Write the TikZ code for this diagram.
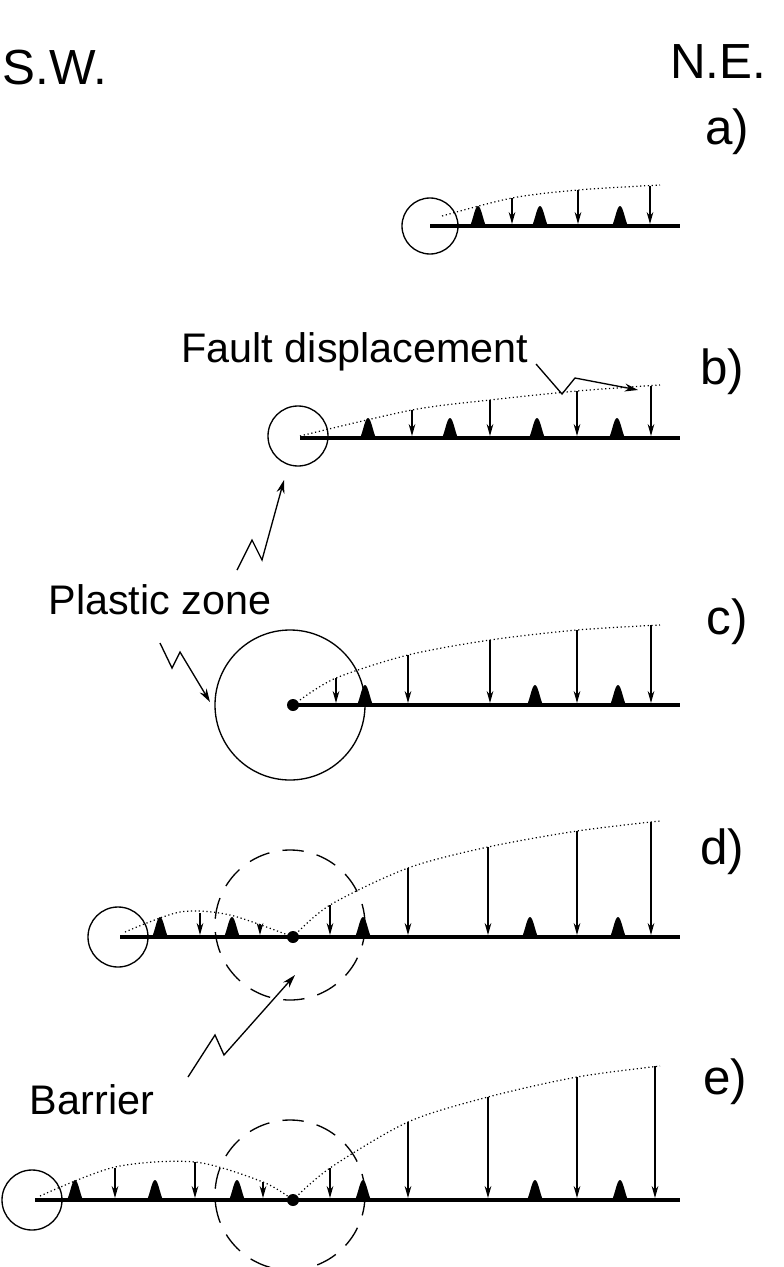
\documentclass[tikz,border=0pt]{standalone}
\usepackage{fontspec}
\setmainfont{Liberation Sans}
\usetikzlibrary{arrows.meta}
\tikzset{
 fault/.style={line width=2.6pt},
 disp/.style={-{Stealth[length=9pt,width=5pt]},line width=0.9pt},
 curve/.style={dotted,line width=0.9pt},
 zone/.style={line width=1pt},
 barrierc/.style={line width=1pt,dash pattern=on 16pt off 10pt},
 lbl/.style={font=\fontsize{37}{40}\selectfont,inner sep=0pt},
 tlbl/.style={font=\fontsize{31}{34}\selectfont,inner sep=0pt},
 squig/.style={-{Stealth[length=10pt,width=6pt]},line width=1pt},
}
\newcommand{\tri}[2]{\fill (#1-8,#2) .. controls (#1-5,#2-6) and (#1-3,#2-20) .. (#1,#2-20) .. controls (#1+3,#2-20) and (#1+5,#2-6) .. (#1+8,#2) -- cycle;}
\newcommand{\arr}[3]{\draw[disp] (#1,#2) -- (#1,#3);}
\begin{document}
\begin{tikzpicture}[x=0.75pt,y=-0.75pt]
\useasboundingbox (0,0) rectangle (783,1267);
\node[lbl] (sw) at (55,68) {S.W.};
\node[lbl] (ne) at (718,62) {N.E.};
\node[lbl] (la) at (727,132) {a)};
\node[lbl] (lb) at (722,372) {b)};
\node[lbl] (lc) at (727,622) {c)};
\node[lbl] (ld) at (722,852) {d)};
\node[lbl] (le) at (725,1082) {e)};
% a
\draw[fault] (430,226) -- (680,226);
\node[zone,draw,circle,minimum size=56pt*0.75] (ca) at (430,226) {};
\draw[curve] plot[smooth] coordinates {(442,216) (512,198) (578,190) (660,185)};
\foreach \x in {478,540,620} {\tri{\x}{226}}
\arr{512}{198}{224}\arr{578}{190}{224}\arr{650}{186}{224}
% b
\draw[fault] (300,438) -- (680,438);
\node[zone,draw,circle,minimum size=60pt*0.75] (cb) at (298,436) {};
\draw[curve] plot[smooth] coordinates {(300,436) (412,410) (490,400) (577,391) (660,385)};
\foreach \x in {368,450,537,617} {\tri{\x}{438}}
\arr{412}{410}{436}\arr{490}{400}{436}\arr{577}{391}{436}\arr{651}{386}{436}
\node[tlbl] (fd) at (355,352) {Fault displacement};
\draw[squig] (536,364) -- (562,394) -- (575,378) -- (638,390);
% c
\draw[fault] (293,705) -- (680,705);
\node[zone,draw,circle,minimum size=150pt*0.75] (cc) at (290,705) {};
\fill (293,705) circle (6pt*0.75);
\draw[curve] plot[smooth] coordinates {(300,700) (336,678) (408,655) (490,640) (577,630) (660,625)};
\foreach \x in {365,535,618} {\tri{\x}{705}}
\arr{336}{678}{703}\arr{408}{655}{703}\arr{490}{640}{703}\arr{577}{630}{703}\arr{651}{625}{703}
\node[tlbl] (pz) at (160,600) {Plastic zone};
\draw[squig] (237,570) -- (252,540) -- (262,560) -- (284,480);
\draw[squig] (160,643) -- (172,668) -- (180,652) -- (210,702);
% d
\draw[fault] (120,937) -- (680,937);
\node[zone,draw,circle,minimum size=60pt*0.75] (cd) at (118,937) {};
\node[barrierc,draw,circle,minimum size=150pt*0.75] (bd) at (290,925) {};
\fill (293,937) circle (6pt*0.75);
\draw[curve] plot[smooth] coordinates {(125,932) (180,912) (230,915) (293,937)};
\draw[curve] plot[smooth] coordinates {(293,937) (330,905) (408,868) (488,847) (577,831) (660,821)};
\foreach \x in {160,232,363,530,618} {\tri{\x}{937}}
\arr{200}{913}{935}\arr{260}{924}{935}\arr{330}{905}{935}\arr{408}{868}{935}\arr{488}{847}{935}\arr{577}{831}{935}\arr{651}{822}{935}
\node[tlbl] (br) at (92,1100) {Barrier};
\draw[squig] (188,1077) -- (215,1035) -- (224,1055) -- (295,975);
% e
\draw[fault] (35,1200) -- (680,1200);
\node[zone,draw,circle,minimum size=60pt*0.75] (ce) at (32,1200) {};
\node[barrierc,draw,circle,minimum size=150pt*0.75] (be) at (290,1195) {};
\fill (293,1200) circle (6pt*0.75);
\draw[curve] plot[smooth] coordinates {(40,1196) (115,1167) (195,1162) (263,1182) (293,1200)};
\draw[curve] plot[smooth] coordinates {(293,1200) (330,1168) (408,1122) (488,1097) (577,1077) (660,1066)};
\foreach \x in {75,155,237,363,535,620} {\tri{\x}{1200}}
\arr{115}{1168}{1198}\arr{195}{1162}{1198}\arr{263}{1182}{1198}\arr{330}{1168}{1198}\arr{408}{1122}{1198}\arr{488}{1097}{1198}\arr{577}{1077}{1198}\arr{655}{1066}{1198}
\end{tikzpicture}
\end{document}
